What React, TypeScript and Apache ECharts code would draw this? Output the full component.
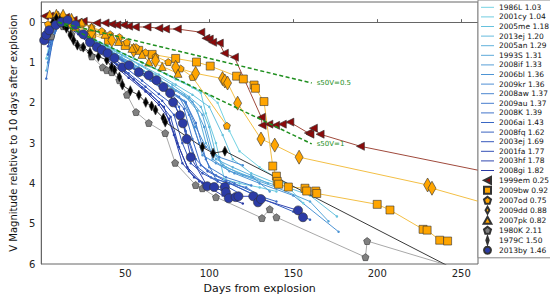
import React, { useEffect, useRef } from 'react';
import * as echarts from 'echarts';

// ---- light (line-only) supernovae ----
const lightNames = [
  '1986L 1.03', '2001cy 1.04', '2005me 1.18', '2013ej 1.20', '2005an 1.29', '1993S 1.31',
  '2008if 1.33', '2006bl 1.36', '2009kr 1.36', '2008aw 1.37', '2009au 1.37', '2008K 1.39',
  '2006ai 1.43', '2008fq 1.62', '2003ej 1.69', '2001fa 1.77', '2003hf 1.78', '2008gi 1.82',
];
const lightColors = [
  '#72d2e2', '#6ccadf', '#66c1dd', '#61b8dc', '#5cafda', '#57a6d8', '#529dd6', '#4d94d4', '#498bd2',
  '#4582cf', '#4179cc', '#3d70c8', '#3967c4', '#355ebf', '#3255ba', '#2f4cb4', '#2c43ad', '#2a3aa5',
];
const sn1986L = [[3, 0.9], [6, 0.3], [9, 0.0], [14, 0.05], [22, 0.25], [30, 0.42], [40, 0.6], [50, 0.8], [60, 1.0], [70, 1.2], [80, 1.42], [90, 1.62], [100, 1.82], [105, 2.0], [112, 2.7], [118, 3.2], [130, 3.6], [145, 4.0], [156, 4.49]];
const sn2001cy = [[5, 0.5], [9, 0.05], [15, 0.0], [25, 0.3], [35, 0.5], [45, 0.7], [55, 0.9], [65, 1.1], [75, 1.3], [85, 1.5], [95, 1.75], [98, 2.26], [104, 3.0], [109, 3.9], [118, 4.0], [130, 4.1], [140, 4.2]];
const sn2005me = [[4, 0.8], [8, 0.1], [13, -0.05], [20, 0.15], [30, 0.4], [40, 0.62], [50, 0.85], [60, 1.08], [70, 1.3], [80, 1.55], [90, 1.8], [100, 2.1], [108, 2.8], [114, 3.4], [125, 3.75], [140, 4.0], [160, 4.3], [176, 4.82]];
const sn2013ej = [[3, 1.2], [7, 0.3], [11, 0.0], [18, 0.1], [28, 0.35], [38, 0.6], [48, 0.82], [58, 1.05], [68, 1.3], [78, 1.55], [88, 1.85], [95, 2.1], [100, 2.6], [104, 3.3], [110, 3.6], [125, 3.85], [140, 4.05]];
const sn2005an = [[5, 0.6], [10, 0.0], [16, 0.05], [25, 0.3], [35, 0.55], [45, 0.8], [55, 1.05], [65, 1.3], [75, 1.55], [85, 1.8], [93, 2.2], [98, 3.0], [104, 3.4], [114, 3.6], [125, 3.8], [135, 4.0]];
const sn1993S = [[6, 0.4], [11, 0.0], [18, 0.1], [28, 0.38], [38, 0.62], [48, 0.88], [58, 1.12], [68, 1.38], [78, 1.62], [88, 1.88], [96, 2.3], [102, 3.2], [108, 3.55], [120, 3.8], [140, 4.1], [160, 4.45], [171, 4.94]];
const sn2008if = [[4, 0.9], [8, 0.15], [12, 0.0], [20, 0.18], [30, 0.45], [40, 0.7], [50, 0.95], [60, 1.2], [70, 1.45], [80, 1.7], [90, 1.98], [97, 2.6], [102, 3.4], [112, 3.7], [126, 3.85], [136, 4.2]];
const sn2006bl = [[5, 0.7], [10, 0.05], [16, 0.05], [25, 0.3], [35, 0.58], [45, 0.85], [55, 1.12], [65, 1.38], [75, 1.65], [85, 1.95], [91, 2.6], [96, 3.3], [104, 3.5], [115, 3.75], [130, 4.0], [150, 4.3], [177, 5.2]];
const sn2009kr = [[6, 0.5], [11, 0.0], [17, 0.08], [27, 0.35], [37, 0.62], [47, 0.9], [57, 1.18], [67, 1.45], [77, 1.72], [86, 1.98], [92, 2.6], [98, 3.1], [106, 3.35], [120, 3.55]];
const sn2008aw = [[4, 1.0], [9, 0.1], [14, 0.0], [22, 0.2], [32, 0.48], [42, 0.75], [52, 1.02], [62, 1.3], [72, 1.58], [82, 1.85], [88, 2.3], [94, 3.0], [100, 3.6], [110, 3.85], [125, 4.05]];
const sn2009au = [[5, 0.6], [10, 0.0], [17, 0.1], [27, 0.38], [37, 0.65], [47, 0.92], [57, 1.2], [67, 1.48], [77, 1.75], [86, 2.0], [92, 2.5], [98, 3.4], [104, 3.9], [112, 4.0], [122, 4.1], [130, 4.3]];
const sn2008K = [[3, 1.4], [7, 0.4], [11, 0.0], [18, 0.12], [28, 0.4], [38, 0.68], [48, 0.95], [58, 1.25], [68, 1.52], [78, 1.8], [85, 2.15], [90, 2.9], [95, 3.55], [104, 3.8], [115, 4.0], [128, 4.25]];
const sn2006ai = [[5, 0.5], [9, 0.0], [15, 0.0], [25, 0.3], [35, 0.58], [45, 0.87], [55, 1.15], [65, 1.45], [75, 1.75], [82, 2.1], [88, 3.0], [93, 3.6], [101, 3.85], [112, 4.0], [125, 4.25], [140, 4.45]];
const sn2008fq = [[4, 0.8], [8, 0.1], [13, -0.05], [20, 0.15], [30, 0.48], [40, 0.8], [50, 1.12], [60, 1.45], [70, 1.78], [80, 2.1], [86, 2.7], [92, 3.4], [99, 3.7], [110, 3.95], [130, 4.35], [150, 4.7], [160, 4.9]];
const sn2003ej = [[5, 0.4], [9, 0.0], [14, 0.0], [22, 0.25], [32, 0.6], [42, 0.92], [52, 1.27], [62, 1.6], [72, 1.95], [79, 2.3], [84, 3.0], [89, 3.5], [96, 3.75], [105, 3.95], [118, 4.25]];
const sn2001fa = [[4, 0.6], [8, 0.0], [13, 0.0], [20, 0.2], [30, 0.55], [40, 0.9], [50, 1.25], [60, 1.62], [70, 1.98], [77, 2.35], [82, 3.1], [88, 3.7], [94, 3.95], [103, 4.1], [115, 4.3]];
const sn2003hf = [[5, 0.3], [10, -0.05], [16, 0.05], [25, 0.35], [35, 0.7], [45, 1.05], [55, 1.42], [65, 1.78], [73, 2.1], [79, 2.8], [84, 3.5], [91, 3.85], [100, 4.05], [112, 4.25]];
const sn2008gi = [[4, 0.5], [9, 0.0], [14, 0.05], [22, 0.3], [32, 0.65], [42, 1.02], [52, 1.38], [62, 1.72], [70, 2.05], [76, 2.4], [81, 3.0], [87, 3.6], [96, 4.0], [108, 4.3], [120, 4.5]];
const lightData = [
  sn1986L, sn2001cy, sn2005me, sn2013ej, sn2005an, sn1993S, sn2008if, sn2006bl, sn2009kr,
  sn2008aw, sn2009au, sn2008K, sn2006ai, sn2008fq, sn2003ej, sn2001fa, sn2003hf, sn2008gi,
];

// ---- marker supernovae ----
const sn1999em = [[2, -0.15], [5, -0.15], [14.5, -0.12], [19, -0.05], [22, 0.0], [25, -0.02], [33, 0.02], [38, 0.02], [42, 0.05], [45, 0.07], [49, 0.07], [52, 0.1], [56, 0.12], [63, 0.12], [70, 0.15], [74, 0.17], [81, 0.17], [95, 0.25], [98, 0.4], [100, 0.42], [102, 0.5], [106, 0.52], [109, 0.77], [115, 0.87], [131, 2.36], [131.5, 2.56], [135.5, 2.53], [139.5, 2.56], [143.5, 2.53], [148, 2.48], [159, 2.75], [160, 2.78], [162, 2.63], [166, 2.78], [190, 3.08], [275, 3.8]];
const sn2009bw = [[12, 0.0], [20, 0.12], [30, 0.3], [40, 0.45], [50, 0.58], [58, 0.7], [66, 0.8], [80, 0.9], [92.4, 0.99], [100.6, 1.09], [116.3, 1.34], [120.3, 1.41], [126.7, 1.56], [127.5, 1.64], [132.6, 1.97], [137.8, 3.57], [140, 3.82], [140.5, 3.95], [141.3, 4.02], [147.1, 4.09], [157, 4.12], [158, 4.19], [163.4, 4.19], [164, 4.25], [200, 4.52], [207.6, 4.66], [227.3, 5.14], [229.7, 5.16], [237.2, 5.41], [241.9, 5.43]];
const sn2007od = [[4, 0.05], [8, -0.12], [13, -0.15], [18, -0.05], [24, 0.05], [30, 0.12], [36, 0.22], [41, 0.3], [46.5, 0.37], [51, 0.5], [56.4, 0.62], [62, 0.75], [68, 0.85], [75.6, 0.99], [83, 1.15], [90, 1.36], [110.5, 2.57]];
const sn2009dd = [[10, -0.1], [18, 0.05], [30, 0.25], [42, 0.45], [55, 0.7], [68, 0.95], [80, 1.12], [91.9, 1.27], [107.9, 1.4], [109.3, 1.46], [110.9, 1.51], [116.9, 2.01], [130.8, 2.9], [139, 3.05], [153.5, 3.35], [230, 4.04], [232.6, 4.12], [275, 4.62]];
const sn2007pk = [[5, -0.2], [9, -0.22], [13, -0.22], [18, -0.12], [24, 0.0], [30, 0.12], [38, 0.3], [46, 0.48], [54, 0.65], [60, 0.8], [64, 0.99], [72, 1.1], [81.4, 1.27]];
const sn1980K = [[6, 0.35], [9, 0.05], [13, 0.1], [18, 0.3], [24.4, 0.62], [30, 0.85], [36.6, 1.12], [39, 1.19], [42, 1.24], [46.5, 1.44], [51, 1.8], [56.4, 2.23], [64, 2.5], [73.8, 2.75], [79.7, 3.49], [91.9, 4.04], [95.9, 4.12], [104, 4.34], [131.4, 4.86], [136, 4.64], [140, 4.84], [193, 5.83], [194, 5.43], [241, 6.02]];
const sn1979C = [[5, 0.25], [7, 0.0], [9, -0.1], [11, -0.05], [13.4, 0.07], [15, 0.15], [17.4, 0.32], [19.2, 0.45], [21.5, 0.57], [25, 0.62], [29, 0.75], [34, 0.85], [39, 0.94], [41.9, 1.12], [43.6, 1.19], [46.5, 1.36], [48.3, 1.56], [53, 1.7], [58.1, 1.81], [62.2, 1.99], [65.7, 2.08], [68, 2.18], [72.7, 2.38], [73.8, 2.48], [95.9, 3.1], [102.3, 3.25], [109.3, 3.2], [241.3, 6.03]];
const sn2013by = [[1.7, 0.45], [2.9, 0.32], [4.7, 0.2], [8.7, 0.07], [12, 0.0], [15.7, -0.05], [20.3, 0.07], [25, 0.3], [29, 0.5], [33.1, 0.62], [36, 0.69], [39.5, 0.77], [43.6, 0.89], [48.3, 1.12], [52.3, 1.07], [58.1, 1.24], [64, 1.32], [68.6, 1.44], [72.7, 1.61], [76.7, 1.76], [78.5, 1.99], [82.6, 2.31], [84.3, 2.51], [86.6, 2.9], [89, 3.35], [98.8, 4.07], [102.9, 4.09], [109.3, 4.09], [109.9, 4.22], [111.6, 4.37], [115.7, 4.34], [117.4, 4.32], [126.2, 4.32], [129, 4.47], [130.8, 4.39], [152.9, 4.67], [155.8, 4.84]];

// reference slopes
const s50Half = [[10, 0], [161, 1.51]];
const s50One = [[10, 0], [161, 3.02]];

const FONT = 'DejaVu Sans';
const ORANGE = '#ffa500';
const ORANGE_LINE = '#f3bf45';
const GREEN = '#1f8f1f';
const TRI_LEFT = 'path://M0,5L10,0L10,10Z';
const PENTA = 'path://M5,0L10,3.8L8.1,10L1.9,10L0,3.8Z';
const SQUARE = 'path://M0,0H10V10H0Z';
const TRI_UP = 'path://M5,0L10,9L0,9Z';
const DIAMOND_TALL = 'path://M5,0L10,9L5,18L0,9Z';
const DIAMOND_THIN = 'path://M3,0L6,9L3,18L0,9Z';
const CIRCLE = 'path://M5,0A5,5 0 1,1 4.99,0Z';

export default function App() {
  const ref = useRef<HTMLDivElement>(null);
  useEffect(() => {
    if (!ref.current) return;
    const chart = echarts.init(ref.current, null, { renderer: 'svg' });

    const lightSeries = lightNames.map((name, i) => ({
      type: 'line',
      name,
      data: lightData[i],
      color: lightColors[i],
      lineStyle: { width: 1, color: lightColors[i] },
      symbol: 'circle',
      symbolSize: 2.5,
      itemStyle: { color: lightColors[i] },
      z: 2,
    }));

    const marker = (name: string, data: number[][], symbol: string, size: any, fill: string, line: string, lw = 1) => ({
      type: 'line',
      name,
      data,
      symbol,
      symbolSize: size,
      color: fill,
      itemStyle: { color: fill, borderColor: '#333', borderWidth: 0.6 },
      lineStyle: { color: line, width: lw },
      z: 3,
    });

    const markerSeries = [
      marker('1999em 0.25', sn1999em, TRI_LEFT, 8, '#8b0a0a', '#a04a3c'),
      marker('2009bw 0.92', sn2009bw, 'rect', 8, ORANGE, ORANGE_LINE),
      marker('2007od 0.75', sn2007od, PENTA, 7, ORANGE, ORANGE_LINE),
      marker('2009dd 0.88', sn2009dd, 'diamond', [8, 14], ORANGE, ORANGE_LINE),
      marker('2007pk 0.82', sn2007pk, 'triangle', 8, ORANGE, ORANGE_LINE),
      marker('1980K 2.11', sn1980K, PENTA, 7, '#808080', '#a8a8a8'),
      marker('1979C 1.50', sn1979C, 'diamond', [5, 10], '#000000', '#3a3a3a'),
      marker('2013by 1.46', sn2013by, 'circle', 9, '#2b3ba6', '#3346b0'),
    ];

    const slopeSeries = [
      { data: s50Half, label: 's50V=0.5' },
      { data: s50One, label: 's50V=1' },
    ].map((s) => ({
      type: 'line',
      name: s.label,
      data: s.data,
      symbol: 'none',
      lineStyle: { color: GREEN, type: [4, 2.5], width: 1.5 },
      endLabel: { show: true, formatter: s.label, color: GREEN, fontSize: 7, distance: 5, fontFamily: FONT },
      z: 5,
    }));

    const legendIcons: Record<string, string> = {
      '1999em 0.25': TRI_LEFT,
      '2009bw 0.92': SQUARE,
      '2007od 0.75': PENTA,
      '2009dd 0.88': DIAMOND_TALL,
      '2007pk 0.82': TRI_UP,
      '1980K 2.11': PENTA,
      '1979C 1.50': DIAMOND_THIN,
      '2013by 1.46': CIRCLE,
    };
    const legendData = [
      ...lightNames.map((n) => ({ name: n, icon: 'path://M0,0H20V1.5H0Z' })),
      ...Object.keys(legendIcons).map((n) => ({ name: n, icon: legendIcons[n] })),
    ];

    chart.setOption({
      animation: false,
      textStyle: { fontFamily: FONT },
      grid: { left: 31, right: 72, top: 2, bottom: 35, show: true, borderColor: '#666', borderWidth: 1, backgroundColor: 'transparent' },
      xAxis: {
        type: 'value',
        min: 0,
        max: 260,
        interval: 50,
        splitLine: { show: false },
        axisLine: { lineStyle: { color: '#666', width: 1 } },
        axisTick: { inside: true, length: 3, lineStyle: { color: '#666' } },
        axisLabel: {
          color: '#222',
          fontSize: 10,
          margin: 4,
          formatter: (v: number) => (v > 0 && v % 50 === 0 ? String(v) : ''),
        },
        name: 'Days from explosion',
        nameLocation: 'middle',
        nameGap: 19,
        nameTextStyle: { fontSize: 11, color: '#111' },
      },
      yAxis: {
        type: 'value',
        inverse: true,
        min: -0.5,
        max: 6,
        interval: 0.5,
        splitLine: { show: false },
        axisLine: { lineStyle: { color: '#666', width: 1 } },
        axisTick: { show: false },
        axisLabel: {
          color: '#222',
          fontSize: 10,
          margin: 6,
          formatter: (v: number) => (Number.isInteger(v) ? String(v) : ''),
        },
        name: 'V Magnitude relative to 10 days after explosion',
        nameLocation: 'middle',
        nameGap: 18,
        nameTextStyle: { fontSize: 10, color: '#111' },
      },
      legend: {
        orient: 'vertical',
        left: 478,
        top: 0,
        itemWidth: 13,
        itemHeight: 7,
        itemGap: 1,
        padding: [3, 2, 3, 3],
        borderColor: '#888',
        borderWidth: 1,
        backgroundColor: '#fff',
        symbolKeepAspect: true,
        textStyle: { fontSize: 7.5, lineHeight: 8.6, color: '#111', fontFamily: FONT },
        data: legendData,
      },
      series: [...lightSeries, ...markerSeries, ...slopeSeries],
    });
    return () => chart.dispose();
  }, []);
  return <div ref={ref} style={{ position: 'absolute', left: 0, top: 0, width: 550, height: 299 }} />;
}
